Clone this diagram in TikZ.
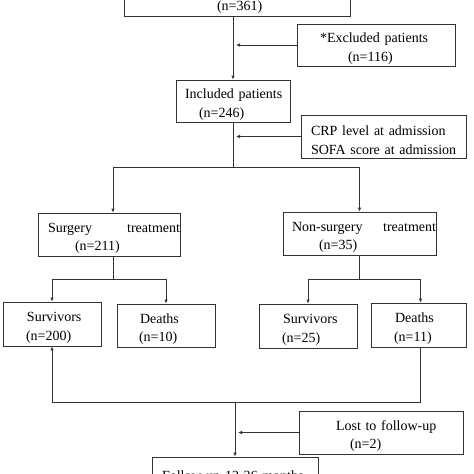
\documentclass[tikz,border=0pt]{standalone}
\usepackage{fontspec}
\setmainfont{Liberation Serif}
\usetikzlibrary{arrows.meta}
\setlength{\parindent}{0pt}

\begin{document}
\begin{tikzpicture}[>={Latex[length=4pt,width=3.5pt]}, x=1pt, y=-1pt,
		line width=0.8pt, draw=black!80,
		box/.style={draw=black!80, inner xsep=0pt, inner ysep=1pt, align=left, font=\fontsize{14}{18.5}\selectfont},
		pair/.style={box, execute at begin node={\rule{0pt}{17pt}}}]
		\useasboundingbox (0,0) rectangle (474,474);
		% boxes
		\node[box, text width=226pt, minimum height=17pt] (total) at (237,7.5) {\hspace*{93pt}(n=361)};
		\node[pair, text width=158pt, minimum height=42pt] (excl) at (376,45) {\hspace*{23pt}*Excluded patients\\\hspace*{51pt}(n=116)};
		\node[pair, text width=114pt, minimum height=42pt] (incl) at (233,101) {\hspace*{9pt}Included patients\\\hspace*{23pt}(n=246)};
		\node[pair, text width=165pt, minimum height=43pt] (crp) at (383.5,136.5) {\hspace*{10pt}CRP level at admission\\\hspace*{10pt}SOFA score at admission};
		\node[pair, text width=142pt, minimum height=43pt] (surg) at (109,234.5) {\hspace*{10pt}Surgery\hfill treatment\hspace*{2pt}\\\hspace*{37pt}(n=211)};
		\node[pair, text width=153pt, minimum height=43pt] (nons) at (359.5,233.5) {\hspace*{9pt}Non-surgery\hfill treatment\hspace*{8pt}\\\hspace*{36pt}(n=35)};
		\node[pair, text width=98pt, minimum height=44pt] (sur1) at (52,324) {\hspace*{24pt}Survivors\\\hspace*{23pt}(n=200)};
		\node[pair, text width=98pt, minimum height=43pt] (dea1) at (166,325.5) {\hspace*{23pt}Deaths\\\hspace*{22pt}(n=10)};
		\node[pair, text width=98pt, minimum height=44pt] (sur2) at (308,326) {\hspace*{24pt}Survivors\\\hspace*{23pt}(n=25)};
		\node[pair, text width=95pt, minimum height=44pt] (dea2) at (418.5,325) {\hspace*{24pt}Deaths\\\hspace*{23pt}(n=11)};
		\node[pair, text width=164pt, minimum height=43pt] (lost) at (381,432.5) {\hspace*{37pt}Lost to follow-up\\\hspace*{51pt}(n=2)};
		\node[box, text width=166pt, minimum height=40pt] (follow) at (235,477) {\hspace*{10pt}Follow-up 12-36 months};
		% connectors
		\draw[->] (total.south -| incl.north) -- (incl.north);
		\draw[->] (excl.west) -- ([xshift=3pt]excl.west -| incl.north);
		\draw[->] (crp.west) -- ([xshift=3pt]crp.west -| incl.north);
		\draw[->] (incl.south) -- ++(0,45) -| ([xshift=4pt]surg.north);
		\draw[->] (incl.south) ++(0,45) -| (nons.north);
		\draw[->] ([xshift=4pt]surg.south) -- ++(0,23) -| (sur1.north);
		\draw[->] ([xshift=4pt]surg.south) ++(0,23) -| (dea1.north);
		\draw[->] (nons.south) -- ++(0,24) -| (sur2.north);
		\draw[->] (nons.south) ++(0,24) -| ([xshift=2pt]dea2.north);
		\draw[->] ([xshift=2pt]dea2.south) -- ++(0,55) coordinate (join) -| (sur1.south);
		\draw[->] (join -| follow.north) -- (follow.north);
		\draw[->] (lost.west) -- ([xshift=3pt]lost.west -| follow.north);
	\end{tikzpicture}
\end{document}
